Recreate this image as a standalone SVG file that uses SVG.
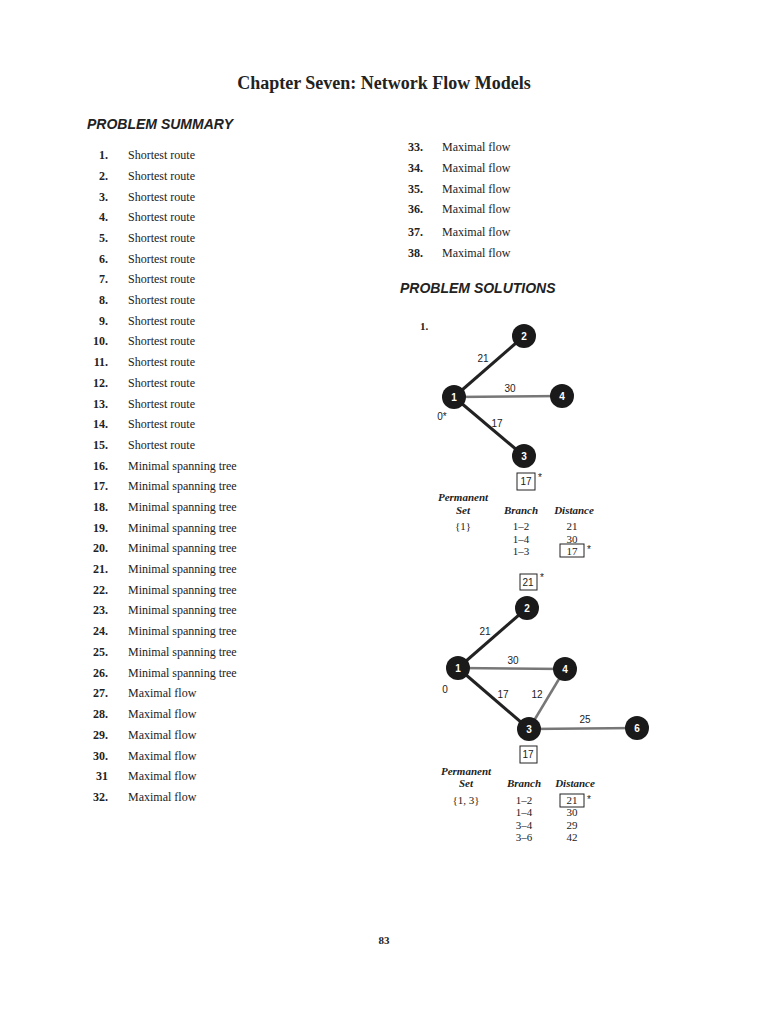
<svg xmlns="http://www.w3.org/2000/svg" width="768" height="1024" viewBox="0 0 768 1024">
<style>
.t{font-family:"Liberation Serif",serif;font-size:12px;fill:#222}
.n{font-family:"Liberation Serif",serif;font-size:12px;font-weight:bold;text-anchor:end;fill:#222}
.h{font-family:"Liberation Sans",sans-serif;font-size:14px;font-weight:bold;font-style:italic;fill:#222}
.nd{fill:#1a1a1a}
.nl{font-family:"Liberation Sans",sans-serif;font-size:10px;font-weight:bold;fill:#fff;text-anchor:middle}
.el{font-family:"Liberation Sans",sans-serif;font-size:10px;fill:#222;text-anchor:middle}
.dk{stroke:#222;stroke-width:3}
.lt{stroke:#777;stroke-width:2.5}
.bx{fill:none;stroke:#222;stroke-width:1}
.th{font-family:"Liberation Serif",serif;font-size:11px;font-weight:bold;font-style:italic;fill:#222;text-anchor:middle}
.tc{font-family:"Liberation Serif",serif;font-size:11px;fill:#222;text-anchor:middle}
</style>
<rect width="768" height="1024" fill="#fff"/>
<text x="384" y="89" font-family="Liberation Serif,serif" font-size="18" font-weight="bold" text-anchor="middle" fill="#222">Chapter Seven: Network Flow Models</text>
<text x="87" y="129" class="h">PROBLEM SUMMARY</text>
<text x="400" y="293" class="h">PROBLEM SOLUTIONS</text>
<g>
<text x="108" y="159" class="n">1.</text><text x="128" y="159" class="t">Shortest route</text>
<text x="108" y="180" class="n">2.</text><text x="128" y="180" class="t">Shortest route</text>
<text x="108" y="201" class="n">3.</text><text x="128" y="201" class="t">Shortest route</text>
<text x="108" y="221" class="n">4.</text><text x="128" y="221" class="t">Shortest route</text>
<text x="108" y="242" class="n">5.</text><text x="128" y="242" class="t">Shortest route</text>
<text x="108" y="263" class="n">6.</text><text x="128" y="263" class="t">Shortest route</text>
<text x="108" y="283" class="n">7.</text><text x="128" y="283" class="t">Shortest route</text>
<text x="108" y="304" class="n">8.</text><text x="128" y="304" class="t">Shortest route</text>
<text x="108" y="325" class="n">9.</text><text x="128" y="325" class="t">Shortest route</text>
<text x="108" y="345" class="n">10.</text><text x="128" y="345" class="t">Shortest route</text>
<text x="108" y="366" class="n">11.</text><text x="128" y="366" class="t">Shortest route</text>
<text x="108" y="387" class="n">12.</text><text x="128" y="387" class="t">Shortest route</text>
<text x="108" y="408" class="n">13.</text><text x="128" y="408" class="t">Shortest route</text>
<text x="108" y="428" class="n">14.</text><text x="128" y="428" class="t">Shortest route</text>
<text x="108" y="449" class="n">15.</text><text x="128" y="449" class="t">Shortest route</text>
<text x="108" y="470" class="n">16.</text><text x="128" y="470" class="t">Minimal spanning tree</text>
<text x="108" y="490" class="n">17.</text><text x="128" y="490" class="t">Minimal spanning tree</text>
<text x="108" y="511" class="n">18.</text><text x="128" y="511" class="t">Minimal spanning tree</text>
<text x="108" y="532" class="n">19.</text><text x="128" y="532" class="t">Minimal spanning tree</text>
<text x="108" y="552" class="n">20.</text><text x="128" y="552" class="t">Minimal spanning tree</text>
<text x="108" y="573" class="n">21.</text><text x="128" y="573" class="t">Minimal spanning tree</text>
<text x="108" y="594" class="n">22.</text><text x="128" y="594" class="t">Minimal spanning tree</text>
<text x="108" y="614" class="n">23.</text><text x="128" y="614" class="t">Minimal spanning tree</text>
<text x="108" y="635" class="n">24.</text><text x="128" y="635" class="t">Minimal spanning tree</text>
<text x="108" y="656" class="n">25.</text><text x="128" y="656" class="t">Minimal spanning tree</text>
<text x="108" y="677" class="n">26.</text><text x="128" y="677" class="t">Minimal spanning tree</text>
<text x="108" y="697" class="n">27.</text><text x="128" y="697" class="t">Maximal flow</text>
<text x="108" y="718" class="n">28.</text><text x="128" y="718" class="t">Maximal flow</text>
<text x="108" y="739" class="n">29.</text><text x="128" y="739" class="t">Maximal flow</text>
<text x="108" y="760" class="n">30.</text><text x="128" y="760" class="t">Maximal flow</text>
<text x="108" y="780" class="n">31</text><text x="128" y="780" class="t">Maximal flow</text>
<text x="108" y="801" class="n">32.</text><text x="128" y="801" class="t">Maximal flow</text>
<text x="423" y="151" class="n">33.</text><text x="442" y="151" class="t">Maximal flow</text>
<text x="423" y="172" class="n">34.</text><text x="442" y="172" class="t">Maximal flow</text>
<text x="423" y="193" class="n">35.</text><text x="442" y="193" class="t">Maximal flow</text>
<text x="423" y="213" class="n">36.</text><text x="442" y="213" class="t">Maximal flow</text>
<text x="423" y="236" class="n">37.</text><text x="442" y="236" class="t">Maximal flow</text>
<text x="423" y="257" class="n">38.</text><text x="442" y="257" class="t">Maximal flow</text>
</g>
<text x="420" y="330" font-family="Liberation Serif,serif" font-size="11" font-weight="bold" fill="#222">1.</text>
<g id="connectors1">
<line x1="454" y1="397" x2="524" y2="336" class="dk"/>
<line x1="454" y1="397" x2="562" y2="396" class="lt"/>
<line x1="454" y1="397" x2="524" y2="456" class="dk"/>
<text x="483" y="362" class="el">21</text>
<text x="510" y="392" class="el">30</text>
<text x="497" y="427" class="el">17</text>
<text x="442" y="420" class="el">0*</text>
</g>
<g id="g1n2"><circle cx="524" cy="336" r="12" class="nd"/><text x="524" y="340" class="nl">2</text></g>
<g id="g1n1"><circle cx="454" cy="397" r="12" class="nd"/><text x="454" y="401" class="nl">1</text></g>
<g id="g1n4"><circle cx="562" cy="396" r="12" class="nd"/><text x="562" y="400" class="nl">4</text></g>
<g id="g1n3"><circle cx="524" cy="456" r="12" class="nd"/><text x="524" y="460" class="nl">3</text></g>
<rect x="517" y="473" width="18" height="17" class="bx"/><text x="526" y="485" class="el">17</text><text x="540" y="481" class="el">*</text>
<g id="table1">
<text x="463" y="501" class="th">Permanent</text>
<text x="463" y="514" class="th">Set</text>
<text x="521" y="514" class="th">Branch</text>
<text x="574" y="514" class="th">Distance</text>
<text x="463" y="530" class="tc">{1}</text>
<text x="521" y="530" class="tc">1–2</text><text x="572" y="530" class="tc">21</text>
<text x="521" y="543" class="tc">1–4</text><text x="572" y="543" class="tc">30</text>
<text x="521" y="555" class="tc">1–3</text><text x="572" y="555" class="tc">17</text>
<rect x="560" y="544" width="24" height="13" class="bx"/><text x="589" y="553" class="el">*</text>
</g>
<rect x="520" y="574" width="17" height="16" class="bx"/><text x="528" y="586" class="el">21</text><text x="542" y="581" class="el">*</text>
<g id="connectors2">
<line x1="458" y1="668" x2="527" y2="608" class="dk"/>
<line x1="458" y1="668" x2="565" y2="669" class="lt"/>
<line x1="458" y1="668" x2="529" y2="729" class="dk"/>
<line x1="529" y1="729" x2="565" y2="669" class="lt"/>
<line x1="529" y1="729" x2="637" y2="728" class="lt"/>
<text x="485" y="635" class="el">21</text>
<text x="513" y="664" class="el">30</text>
<text x="445" y="693" class="el">0</text>
<text x="503" y="698" class="el">17</text>
<text x="537" y="698" class="el">12</text>
<text x="585" y="723" class="el">25</text>
</g>
<g id="g2n2"><circle cx="527" cy="608" r="12" class="nd"/><text x="527" y="612" class="nl">2</text></g>
<g id="g2n1"><circle cx="458" cy="668" r="12" class="nd"/><text x="458" y="672" class="nl">1</text></g>
<g id="g2n4"><circle cx="565" cy="669" r="12" class="nd"/><text x="565" y="673" class="nl">4</text></g>
<g id="g2n3"><circle cx="529" cy="729" r="12" class="nd"/><text x="529" y="733" class="nl">3</text></g>
<g id="g2n6"><circle cx="637" cy="728" r="12" class="nd"/><text x="637" y="732" class="nl">6</text></g>
<rect x="520" y="746" width="17" height="17" class="bx"/><text x="528" y="758" class="el">17</text>
<g id="table2">
<text x="466" y="775" class="th">Permanent</text>
<text x="466" y="787" class="th">Set</text>
<text x="524" y="787" class="th">Branch</text>
<text x="575" y="787" class="th">Distance</text>
<text x="466" y="804" class="tc">{1, 3}</text>
<text x="524" y="804" class="tc">1–2</text><text x="572" y="804" class="tc">21</text>
<text x="524" y="816" class="tc">1–4</text><text x="572" y="816" class="tc">30</text>
<text x="524" y="829" class="tc">3–4</text><text x="572" y="829" class="tc">29</text>
<text x="524" y="841" class="tc">3–6</text><text x="572" y="841" class="tc">42</text>
<rect x="560" y="794" width="24" height="13" class="bx"/><text x="589" y="803" class="el">*</text>
</g>
<text x="384" y="944" font-family="Liberation Serif,serif" font-size="11" font-weight="bold" text-anchor="middle" fill="#222">83</text>
</svg>
